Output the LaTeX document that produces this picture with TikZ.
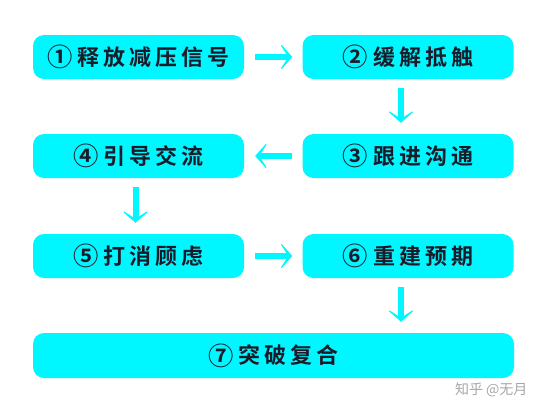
\documentclass[tikz,border=0pt]{standalone}
\usepackage{fontspec}
\usepackage{graphicx}
\newfontfamily\cjk[LetterSpace=18]{Noto Sans CJK SC Bold}
\newfontfamily\wm{Noto Sans CJK SC}
\newcommand\cnum[1]{\raisebox{-0.07em}{\scalebox{1.15}{#1}}\hspace{0.22em}}
\usetikzlibrary{arrows.meta}
\definecolor{boxcyan}{HTML}{00F7FF}
\definecolor{txt}{HTML}{1B1B2A}
\tikzset{
  stepbox/.style={fill=boxcyan, rounded corners=11pt, minimum width=211pt, minimum height=44pt, inner sep=0pt, text=txt, font=\cjk\fontsize{22pt}{22pt}\selectfont},
  bigbox/.style={stepbox, minimum width=481pt, minimum height=45pt},
  arr/.style={draw=boxcyan, line width=6pt, -{Stealth[length=15pt,width=34pt,inset=11pt]}}
}
\begin{document}
\begin{tikzpicture}[x=1pt,y=1pt]
\useasboundingbox (0,0) rectangle (547,-413);
\node[stepbox] (b1) at (138.5,-57) {\cnum{①}释放减压信号};
\node[stepbox] (b2) at (408,-57) {\cnum{②}缓解抵触};
\node[stepbox] (b3) at (408,-156) {\cnum{③}跟进沟通};
\node[stepbox] (b4) at (138.5,-156) {\cnum{④}引导交流};
\node[stepbox] (b5) at (138.5,-256) {\cnum{⑤}打消顾虑};
\node[stepbox] (b6) at (408,-256) {\cnum{⑥}重建预期};
\node[bigbox] (b7) at (273.5,-355.5) {\cnum{⑦}突破复合};
\draw[arr] ([xshift=11pt]b1.east) -- ([xshift=-10pt]b2.west);
\draw[arr] ([xshift=-7pt,yshift=-9pt]b2.south) -- ([xshift=-7pt,yshift=11pt]b3.north);
\draw[arr] ([xshift=-10pt]b3.west) -- ([xshift=11pt]b4.east);
\draw[arr] ([xshift=-3pt,yshift=-9pt]b4.south) -- ([xshift=-3pt,yshift=11pt]b5.north);
\draw[arr] ([xshift=11pt]b5.east) -- ([xshift=-10pt]b6.west);
\draw[arr] ([xshift=-7pt,yshift=-9pt]b6.south) -- ([xshift=-7pt,yshift=11pt]b6.south |- b7.north);
\node[text=black!35, font=\wm\fontsize{14pt}{14pt}\selectfont, anchor=east] (wm) at (531,-390) {知乎 @无月};
\end{tikzpicture}
\end{document}
